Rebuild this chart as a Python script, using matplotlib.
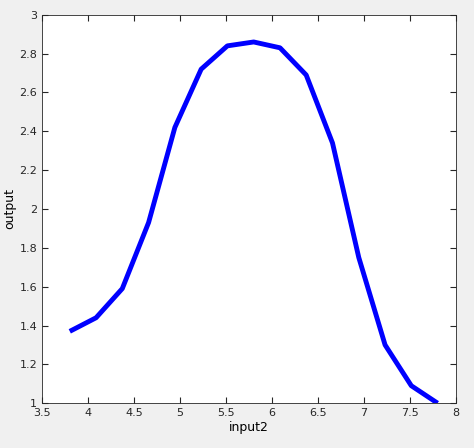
import numpy as np
import matplotlib.pyplot as plt

# values
input2 = [3.8, 4.086, 4.371, 4.657, 4.943, 5.229, 5.514, 5.8,
          6.086, 6.371, 6.657, 6.943, 7.229, 7.514, 7.8]
output = [1.37, 1.44, 1.59, 1.93, 2.42, 2.72, 2.84, 2.86,
          2.83, 2.69, 2.34, 1.75, 1.30, 1.09, 1.00]

xticks = [3.5, 4, 4.5, 5, 5.5, 6, 6.5, 7, 7.5, 8]
yticks = [1, 1.2, 1.4, 1.6, 1.8, 2, 2.2, 2.4, 2.6, 2.8, 3]

fig = plt.figure(figsize=(4.74, 4.48), dpi=100, facecolor='#f0f0f0')
ax = fig.add_axes([0.089, 0.10, 0.873, 0.867])
ax.plot(input2, output, color='#0000ff', lw=3.5, solid_capstyle='butt')
ax.set_xlim(3.5, 8)
ax.set_ylim(1, 3)
ax.set_xticks(xticks)
ax.set_xticklabels(['3.5', '4', '4.5', '5', '5.5', '6', '6.5', '7', '7.5', '8'])
ax.set_yticks(yticks)
ax.set_yticklabels(['1', '1.2', '1.4', '1.6', '1.8', '2', '2.2', '2.4', '2.6', '2.8', '3'])
ax.tick_params(direction='in', top=True, right=True, labelsize=8, length=4, colors='#262626')
for s in ax.spines.values():
    s.set_color('#262626')
    s.set_linewidth(0.6)
ax.set_xlabel('input2', fontsize=9, labelpad=2)
ax.set_ylabel('output', fontsize=9, labelpad=2)
plt.savefig('out.png', dpi=100, facecolor=fig.get_facecolor())
